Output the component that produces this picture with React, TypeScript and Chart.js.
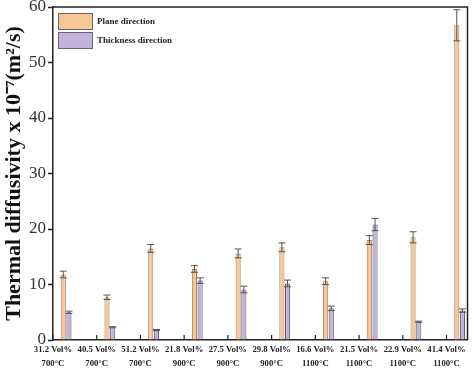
import { useEffect, useRef } from "react";
import { Chart, registerables } from "chart.js";

Chart.register(...registerables);

const volumeLabels = [
  "31.2 Vol%", "40.5 Vol%", "51.2 Vol%", "21.8 Vol%", "27.5 Vol%",
  "29.8 Vol%", "16.6 Vol%", "21.5 Vol%", "22.9 Vol%", "41.4 Vol%",
];
const temperatureLabels = [
  "700°C", "700°C", "700°C", "900°C", "900°C",
  "900°C", "1100°C", "1100°C", "1100°C", "1100°C",
];
const planeValues = [11.8, 7.7, 16.5, 12.8, 15.6, 16.7, 10.6, 18.0, 18.5, 56.7];
const planeErrors = [0.6, 0.4, 0.7, 0.6, 0.8, 0.8, 0.6, 0.8, 1.0, 2.8];
const thicknessValues = [5.0, 2.3, 1.8, 10.7, 9.1, 10.2, 5.7, 20.8, 3.3, 5.3];
const thicknessErrors = [0.2, 0.1, 0.1, 0.5, 0.6, 0.6, 0.4, 1.1, 0.1, 0.3];
const yTickValues = [0, 10, 20, 30, 40, 50, 60];

const seriesNames = ["Plane direction", "Thickness direction"];

const BAR_SHIFT = 0.3; // bars sit to the right of each category tick
const SERIF = "'Liberation Serif', 'Times New Roman', serif";

const errorBarPlugin = {
  id: "errorBars",
  afterDatasetsDraw(chart: any) {
    const ctx = chart.ctx;
    const yScale = chart.scales.y;
    chart.data.datasets.forEach((ds: any, di: number) => {
      const meta = chart.getDatasetMeta(di);
      meta.data.forEach((bar: any, i: number) => {
        const v = ds.data[i].y;
        const e = ds.errors[i];
        const x = bar.x;
        const top = yScale.getPixelForValue(v + e);
        const bot = yScale.getPixelForValue(v - e);
        ctx.save();
        ctx.strokeStyle = "#555";
        ctx.lineWidth = 1;
        ctx.beginPath();
        ctx.moveTo(x, top);
        ctx.lineTo(x, bot);
        ctx.moveTo(x - 3.5, top);
        ctx.lineTo(x + 3.5, top);
        ctx.moveTo(x - 3.5, bot);
        ctx.lineTo(x + 3.5, bot);
        ctx.stroke();
        ctx.restore();
      });
    });
  },
};

const legendPlugin = {
  id: "insideLegend",
  afterDraw(chart: any) {
    const { ctx, chartArea } = chart;
    ctx.save();
    chart.data.datasets.forEach((ds: any, i: number) => {
      const bx = chartArea.left + 5;
      const by = chartArea.top + 6 + i * 19;
      ctx.fillStyle = ds.backgroundColor;
      ctx.fillRect(bx, by, 35, 17);
      ctx.strokeStyle = "#666";
      ctx.lineWidth = 1;
      ctx.strokeRect(bx + 0.5, by + 0.5, 34, 16);
      ctx.fillStyle = "#222";
      ctx.font = `bold 9px ${SERIF}`;
      ctx.textBaseline = "middle";
      ctx.textAlign = "left";
      ctx.fillText(ds.label, bx + 39, by + 9);
    });
    ctx.restore();
  },
};

const framePlugin = {
  id: "frame",
  afterDraw(chart: any) {
    const { ctx, chartArea } = chart;
    const xScale = chart.scales.x;
    ctx.save();
    ctx.strokeStyle = "#222";
    ctx.lineWidth = 1.5;
    ctx.beginPath();
    ctx.moveTo(chartArea.left, chartArea.top);
    ctx.lineTo(chartArea.right, chartArea.top);
    ctx.lineTo(chartArea.right, chartArea.bottom);
    ctx.stroke();
    ctx.lineWidth = 1.2;
    ctx.beginPath();
    xScale.ticks.forEach((t: any) => {
      const px = xScale.getPixelForValue(t.value);
      ctx.moveTo(px, chartArea.bottom);
      ctx.lineTo(px, chartArea.bottom - 5);
    });
    ctx.stroke();
    ctx.restore();
  },
};

export default function App() {
  const canvasRef = useRef<HTMLCanvasElement | null>(null);

  useEffect(() => {
    document.body.style.margin = "0";
    const canvas = canvasRef.current;
    if (!canvas) return;

    const chart = new Chart(canvas, {
      type: "bar",
      data: {
        datasets: [
          {
            label: seriesNames[0],
            data: planeValues.map((v, i) => ({ x: i + 1 + BAR_SHIFT, y: v })),
            errors: planeErrors,
            backgroundColor: "#f8c597",
            borderColor: "#a88460",
            borderWidth: 1,
          } as any,
          {
            label: seriesNames[1],
            data: thicknessValues.map((v, i) => ({ x: i + 1 + BAR_SHIFT, y: v })),
            errors: thicknessErrors,
            backgroundColor: "#c2b3da",
            borderColor: "#625878",
            borderWidth: 1,
          } as any,
        ],
      },
      options: {
        animation: false,
        responsive: false,
        maintainAspectRatio: false,
        categoryPercentage: 0.26,
        barPercentage: 0.9,
        layout: { padding: { top: 7, right: 6.5, left: 0, bottom: 0 } },
        plugins: {
          tooltip: { enabled: false },
          legend: { display: false },
        },
        scales: {
          x: {
            type: "linear",
            offset: false,
            min: 1,
            max: 10.48,
            afterBuildTicks: (scale: any) => {
              scale.ticks = volumeLabels.map((_, i) => ({ value: i + 1 }));
            },
            afterFit: (scale: any) => {
              scale.height = 29;
            },
            grid: { offset: false, drawOnChartArea: false, drawTicks: false },
            border: { color: "#222", width: 1.5 },
            ticks: {
              autoSkip: false,
              maxRotation: 0,
              minRotation: 0,
              padding: 3,
              color: "#222",
              font: { family: SERIF, size: 8.7, weight: "bold", lineHeight: 1.6 },
              callback: (value: any) => {
                const i = Math.round(Number(value)) - 1;
                return [volumeLabels[i], temperatureLabels[i]];
              },
            },
          },
          y: {
            min: 0,
            max: 60,
            afterBuildTicks: (scale: any) => {
              scale.ticks = yTickValues.map((v) => ({ value: v }));
            },
            afterFit: (scale: any) => {
              scale.width = 53;
              scale.paddingTop = 0;
              scale.paddingBottom = 0;
            },
            grid: {
              drawOnChartArea: false,
              drawTicks: true,
              tickLength: 5,
              tickWidth: 1.5,
              tickColor: "#222",
            },
            border: { color: "#222", width: 1.5 },
            ticks: {
              padding: 2,
              color: "#333",
              font: { family: SERIF, size: 17 },
            },
            title: {
              display: true,
              text: "Thermal diffusivity x 10⁻⁷(m²/s)",
              color: "#111",
              font: { family: SERIF, size: 22, weight: "bold" },
              padding: { top: 1, bottom: 0 },
            },
          },
        },
      },
      plugins: [errorBarPlugin, legendPlugin, framePlugin],
    } as any);

    return () => chart.destroy();
  }, []);

  return (
    <div style={{ width: 474, height: 369 }}>
      <canvas ref={canvasRef} width={474} height={369} />
    </div>
  );
}
